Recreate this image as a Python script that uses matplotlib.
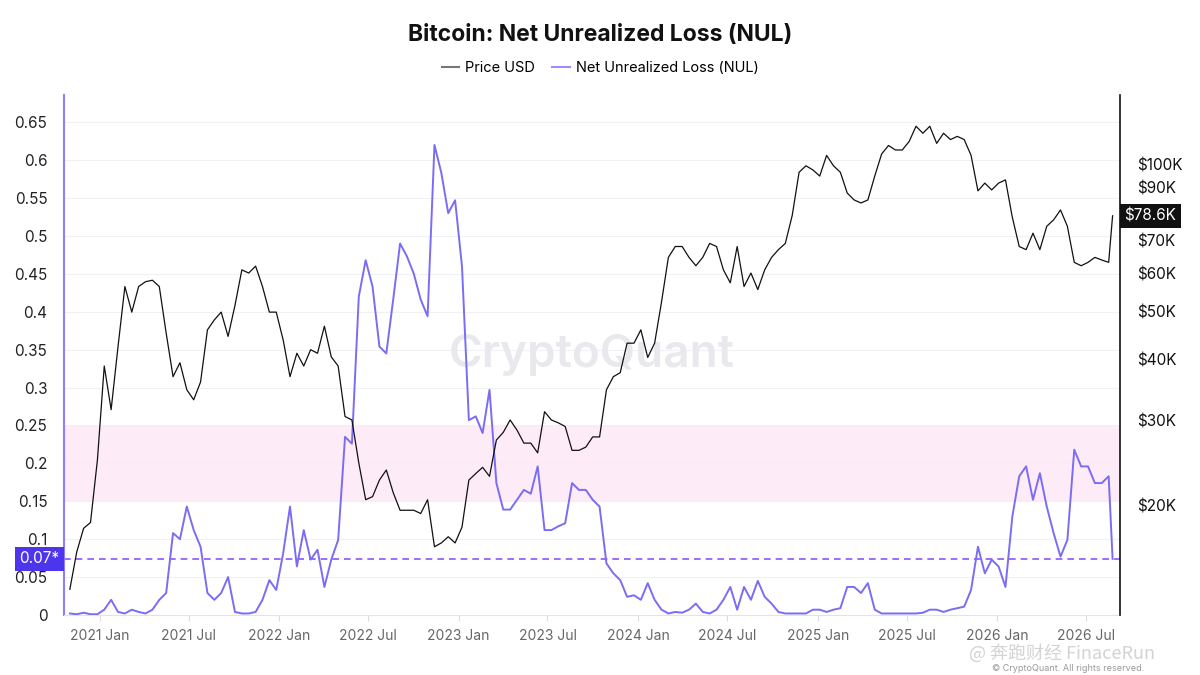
import numpy as np
import pandas as pd
import matplotlib
matplotlib.use("Agg")
import matplotlib.pyplot as plt
import matplotlib.dates as mdates
import matplotlib.transforms as mtrans
from matplotlib.lines import Line2D

plt.rcParams['font.family'] = ['Inter', 'DejaVu Sans']

# 14-day samples, plus the last print
dates = list(pd.date_range('2020-11-01', periods=152, freq='14D')) + [pd.Timestamp('2026-08-24')]

price_k = [
    13.5, 16.1, 18.0, 18.5, 24.8, 38.7, 31.5, 42.4, 56.3, 49.9,
    56.3, 57.6, 58.0, 56.3, 45.2, 36.8, 39.3, 34.6, 33.0, 35.9,
    45.9, 48.1, 49.9, 44.5, 51.5, 60.9, 60.0, 62.0, 56.3, 49.9,
    49.9, 43.8, 36.8, 41.1, 38.7, 41.8, 41.1, 46.7, 40.4, 38.7,
    30.5, 30.0, 24.5, 20.6, 20.9, 22.6, 23.7, 21.3, 19.6, 19.6,
    19.6, 19.3, 20.6, 16.5, 16.8, 17.3, 16.8, 18.1, 22.6, 23.3,
    24.0, 23.0, 27.3, 28.3, 30.0, 28.6, 26.9, 26.9, 25.7, 31.2,
    30.0, 29.6, 29.1, 26.0, 26.0, 26.4, 27.7, 27.7, 34.6, 36.8,
    37.5, 43.1, 43.1, 45.9, 40.3, 43.1, 52.3, 64.6, 68.0, 68.0,
    64.6, 62.1, 64.6, 69.0, 68.0, 60.9, 57.3, 68.0, 56.3, 60.0,
    55.5, 60.9, 64.6, 67.0, 69.0, 78.7, 96.5, 99.5, 97.6, 94.8,
    104.5, 99.5, 96.5, 87.5, 84.7, 83.5, 84.7, 94.8, 105.2, 109.5,
    107.2, 107.2, 111.6, 119.9, 116.0, 119.9, 110.6, 116.0, 112.6, 114.3,
    112.6, 104.5, 88.4, 91.7, 88.8, 91.7, 93.1, 78.0, 68.0, 67.0,
    72.4, 67.0, 74.8, 77.1, 80.8, 74.8, 63.1, 62.1, 63.1, 64.6,
    63.8, 63.1, 78.6,
]

nul = [
    0.002, 0.001, 0.003, 0.001, 0.001, 0.007, 0.020, 0.004, 0.002, 0.007,
    0.004, 0.002, 0.007, 0.020, 0.029, 0.108, 0.100, 0.143, 0.112, 0.090,
    0.029, 0.020, 0.029, 0.050, 0.004, 0.002, 0.002, 0.004, 0.020, 0.046,
    0.033, 0.081, 0.143, 0.064, 0.112, 0.073, 0.086, 0.037, 0.073, 0.099,
    0.235, 0.226, 0.420, 0.468, 0.433, 0.354, 0.345, 0.416, 0.490, 0.473,
    0.450, 0.416, 0.394, 0.620, 0.583, 0.530, 0.547, 0.460, 0.257, 0.262,
    0.240, 0.297, 0.174, 0.139, 0.139, 0.152, 0.165, 0.160, 0.196, 0.112,
    0.112, 0.117, 0.121, 0.174, 0.165, 0.165, 0.152, 0.143, 0.068, 0.055,
    0.046, 0.024, 0.026, 0.020, 0.042, 0.020, 0.007, 0.002, 0.004, 0.003,
    0.007, 0.015, 0.004, 0.002, 0.007, 0.020, 0.037, 0.007, 0.037, 0.020,
    0.045, 0.024, 0.015, 0.004, 0.002, 0.002, 0.002, 0.002, 0.007, 0.007,
    0.004, 0.007, 0.009, 0.037, 0.037, 0.029, 0.042, 0.007, 0.002, 0.002,
    0.002, 0.002, 0.002, 0.002, 0.003, 0.007, 0.007, 0.004, 0.007, 0.009,
    0.011, 0.033, 0.090, 0.055, 0.073, 0.064, 0.037, 0.130, 0.183, 0.196,
    0.152, 0.187, 0.143, 0.108, 0.077, 0.099, 0.218, 0.196, 0.196, 0.174,
    0.174, 0.183, 0.074,
]

left_ticks = [0, 0.05, 0.1, 0.15, 0.2, 0.25, 0.3, 0.35, 0.4, 0.45, 0.5, 0.55, 0.6, 0.65]
price_ticks = [20e3, 30e3, 40e3, 50e3, 60e3, 70e3, 90e3, 100e3]
x_ticks = pd.date_range('2021-01-01', '2026-07-01', freq='6MS')

purple = '#7b6cf6'
price_usd = np.array(price_k) * 1000

fig = plt.figure(figsize=(12, 6.75), dpi=100)
ax = fig.add_axes([0.0533, 0.0889, 0.88, 0.7705])
ax2 = ax.twinx()

# pink zone and the last-value line
ax.axhspan(0.15, 0.25, color='#fdebf7', zorder=0, lw=0)
ax.plot(dates, nul, color=purple, lw=1.4, zorder=3)
ax.axhline(nul[-1], color='#8a55f7', lw=1.2, ls=(0, (4, 3)), zorder=2)

ax2.plot(dates, price_usd, color='#111111', lw=0.9)
ax2.set_yscale('log')
ax2.set_ylim(11960, 139000)
ax2.set_yticks(price_ticks)
ax2.set_yticklabels(['$%dK' % (p / 1000) for p in price_ticks])
ax2.yaxis.set_minor_locator(matplotlib.ticker.NullLocator())
ax2.tick_params(axis='y', length=0, pad=12, labelsize=11, colors='#111111')

ax.set_ylim(0, 0.686)
ax.set_yticks(left_ticks)
ax.set_yticklabels(['%g' % v for v in left_ticks])
ax.tick_params(axis='y', length=0, pad=12, labelsize=11, colors='#222222')
ax.grid(axis='y', color='#f1f1f4', lw=0.8)
ax.set_axisbelow(True)

ax.set_xlim(pd.Timestamp('2020-10-20'), pd.Timestamp('2026-09-08'))
ax.set_xticks(x_ticks)
ax.xaxis.set_major_formatter(mdates.DateFormatter('%Y %b'))
ax.tick_params(axis='x', length=4, color='#dcdce6', labelsize=10, colors='#666666', pad=6)
for lab in ax.get_xticklabels():
    lab.set_color('#666666')

for a in (ax, ax2):
    a.spines['top'].set_visible(False)
ax.spines['left'].set_color('#8d7dff')
ax.spines['left'].set_linewidth(1.5)
ax.spines['right'].set_visible(False)
ax.spines['bottom'].set_color('#e2e2ea')
ax2.spines['left'].set_visible(False)
ax2.spines['bottom'].set_visible(False)
ax2.spines['right'].set_color('#111111')
ax2.spines['right'].set_linewidth(1.2)

# value tags
trl = mtrans.blended_transform_factory(ax.transAxes, ax.transData)
ax.text(-0.004, nul[-1], '%.2f*' % nul[-1], transform=trl, ha='right', va='center',
        color='white', fontsize=11, zorder=5, clip_on=False,
        bbox=dict(boxstyle='square,pad=0.3', fc='#4c35ec', ec='none'))
trr = mtrans.blended_transform_factory(ax2.transAxes, ax2.transData)
ax2.text(1.004, price_usd[-1], '$%.1fK' % price_k[-1], transform=trr, ha='left', va='center',
         color='white', fontsize=11, clip_on=False,
         bbox=dict(boxstyle='square,pad=0.3', fc='#111111', ec='none'))

# watermarks
ax.text(0.5, 0.5, 'CryptoQuant', transform=ax.transAxes, ha='center', va='center',
        fontsize=33, color='#e8e8ed', fontweight='semibold', zorder=1)
fig.text(0.89, 0.010, '© CryptoQuant. All rights reserved.', ha='center', va='center',
         fontsize=6.5, color='#999999')
fig.text(0.885, 0.032, '@ 奔跑财经 FinaceRun', ha='center', va='center', fontsize=13,
         color='#c8c8c8', alpha=0.8, family=['Noto Sans CJK SC', 'DejaVu Sans'])

fig.text(0.5, 0.948, 'Bitcoin: Net Unrealized Loss (NUL)', ha='center', va='center',
         fontsize=16.5, fontweight='bold', color='#111111')
handles = [Line2D([], [], color='#777777', lw=1.5), Line2D([], [], color='#9d8cff', lw=1.5)]
fig.legend(handles, ['Price USD', 'Net Unrealized Loss (NUL)'], loc='center',
           bbox_to_anchor=(0.5, 0.899), ncol=2, frameon=False, fontsize=10.5,
           handlelength=1.2, handletextpad=0.4, columnspacing=1.2)

fig.savefig('out.png', dpi=100)
